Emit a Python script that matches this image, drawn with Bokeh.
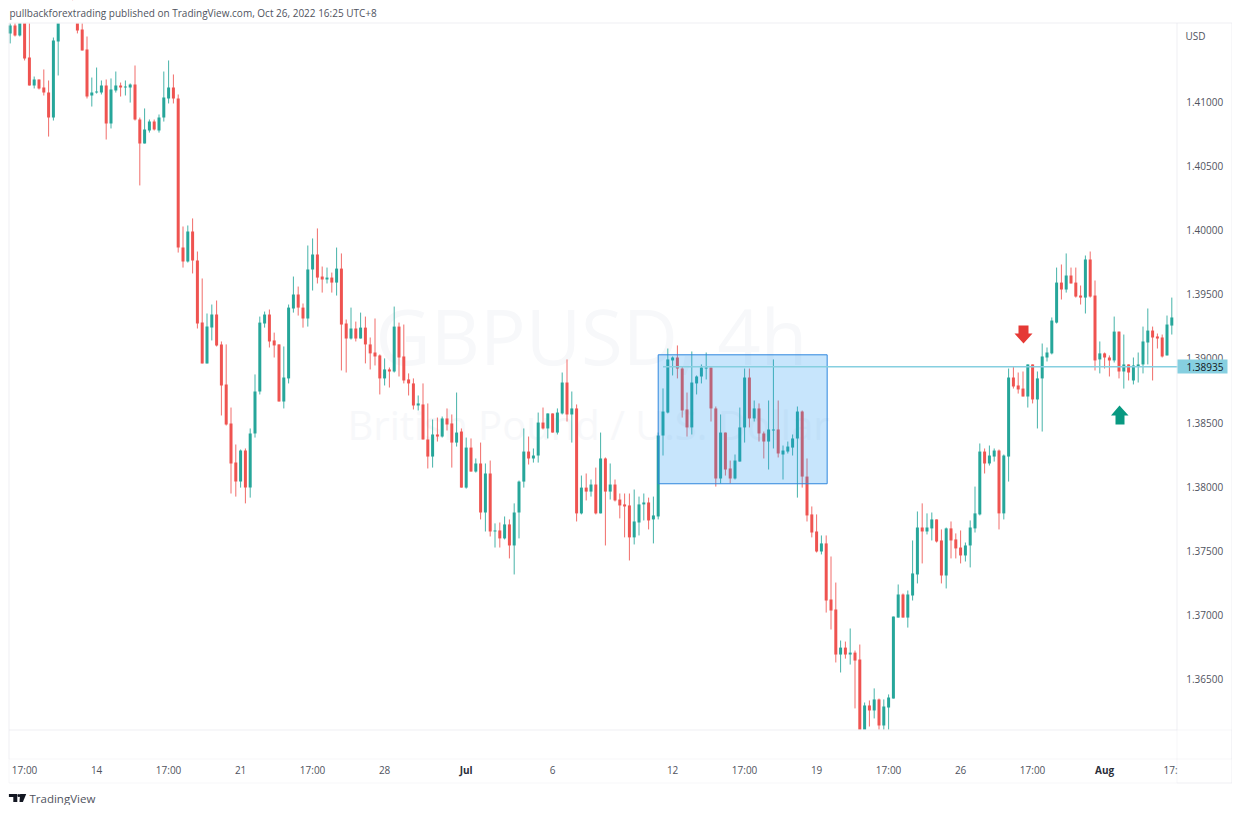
from bokeh.embed import file_html
from bokeh.resources import INLINE
from bokeh.models import BoxAnnotation, ColumnDataSource, FixedTicker, Label, NumeralTickFormatter, Range1d
from bokeh.plotting import figure

opens = [
1.41533,1.41595,1.41517,1.41673,1.41345,1.41127,1.41174,1.41111,1.41072,1.40877,
1.41470,1.41727,1.41681,1.41758,1.41650,1.41564,1.41408,1.41049,1.41072,1.41072,
1.41127,1.40831,1.41088,1.41127,1.41111,1.41111,1.41135,1.40862,1.40675,1.40776,
1.40846,1.40776,1.40877,1.41026,1.41111,1.41026,1.39864,1.39755,1.39989,1.39763,
1.39279,1.38961,1.39240,1.39342,1.39109,1.38797,1.38493,1.38188,1.38040,1.38282,
1.37993,1.38415,1.38742,1.39272,1.39342,1.39140,1.39109,1.38664,1.38844,1.39389,
1.39498,1.39396,1.39311,1.39693,1.39810,1.39638,1.39615,1.39630,1.39591,1.39700,
1.39272,1.39155,1.39233,1.39155,1.39240,1.39109,1.39046,1.39023,1.38844,1.38914,
1.38898,1.39248,1.39015,1.38836,1.38805,1.38633,1.38641,1.38368,1.38235,1.38407,
1.38391,1.38532,1.38493,1.38344,1.38430,1.37993,1.38305,1.38118,1.38181,1.37799,
1.38103,1.37651,1.37659,1.37597,1.37706,1.37542,1.37799,1.38040,1.38274,1.38220,
1.38243,1.38500,1.38454,1.38571,1.38422,1.38571,1.38812,1.38563,1.38610,1.37792,
1.37993,1.37962,1.38017,1.37792,1.38220,1.37962,1.38017,1.37900,1.37862,1.37854,
1.37605,1.37721,1.37862,1.37877,1.37745,1.37768,1.38399,1.38578,1.38984,1.39007,
1.38921,1.38602,1.38462,1.38805,1.38859,1.38921,1.38929,1.38610,1.38064,1.38422,
1.38142,1.38064,1.38196,1.38462,1.38851,1.38532,1.38610,1.38415,1.38352,1.38438,
1.38446,1.38251,1.38274,1.38305,1.38376,1.38586,1.38079,1.37784,1.37651,1.37495,
1.37558,1.37121,1.37043,1.36692,1.36746,1.36692,1.36707,1.36653,1.36061,1.36295,
1.36256,1.36342,1.36139,1.36279,1.36349,1.36980,1.37160,1.36980,1.37152,1.37316,
1.37682,1.37651,1.37675,1.37745,1.37581,1.37308,1.37675,1.37589,1.37526,1.37464,
1.37542,1.37675,1.37784,1.38274,1.38181,1.38235,1.38282,1.37792,1.38235,1.38851,
1.38789,1.38765,1.38703,1.38953,1.38680,1.38844,1.39007,1.39039,1.39279,1.39591,
1.39537,1.39646,1.39591,1.39490,1.39474,1.39771,1.39490,1.38992,1.39039,1.39007,
1.38984,1.39209,1.38898,1.38953,1.38828,1.38937,1.38953,1.39124,1.39217,1.39171,
1.39163,1.39023,1.39256]

closes = [
1.41595,1.41517,1.41634,1.41338,1.41127,1.41174,1.41104,1.41072,1.40877,1.41478,
1.41650,1.41681,1.41751,1.41650,1.41556,1.41400,1.41041,1.41072,1.41080,1.41127,
1.40831,1.41096,1.41127,1.41111,1.41119,1.41135,1.40862,1.40675,1.40784,1.40846,
1.40784,1.40877,1.41033,1.41111,1.41026,1.39864,1.39755,1.39989,1.39763,1.39272,
1.38961,1.39248,1.39342,1.39101,1.38789,1.38485,1.38181,1.38040,1.38282,1.37993,
1.38415,1.38742,1.39279,1.39342,1.39132,1.39101,1.38664,1.38851,1.39396,1.39498,
1.39396,1.39311,1.39693,1.39810,1.39630,1.39615,1.39630,1.39591,1.39700,1.39264,
1.39155,1.39233,1.39155,1.39240,1.39109,1.39039,1.39015,1.38844,1.38914,1.38898,
1.39248,1.39007,1.38828,1.38805,1.38633,1.38649,1.38368,1.38235,1.38407,1.38391,
1.38532,1.38485,1.38344,1.38422,1.37993,1.38305,1.38118,1.38181,1.37799,1.38103,
1.37651,1.37659,1.37597,1.37706,1.37542,1.37799,1.38040,1.38274,1.38220,1.38243,
1.38500,1.38454,1.38571,1.38422,1.38578,1.38812,1.38563,1.38610,1.37792,1.37993,
1.37962,1.38017,1.37792,1.38220,1.37962,1.38017,1.37893,1.37854,1.37846,1.37605,
1.37729,1.37862,1.37877,1.37737,1.37776,1.38399,1.38586,1.38992,1.39007,1.38921,
1.38594,1.38462,1.38812,1.38859,1.38929,1.38929,1.38610,1.38064,1.38422,1.38134,
1.38064,1.38204,1.38462,1.38851,1.38532,1.38610,1.38415,1.38352,1.38446,1.38446,
1.38259,1.38282,1.38313,1.38376,1.38586,1.38079,1.37776,1.37643,1.37495,1.37558,
1.37113,1.37035,1.36692,1.36746,1.36692,1.36707,1.36645,1.36061,1.36295,1.36256,
1.36342,1.36139,1.36287,1.36357,1.36988,1.37160,1.36980,1.37160,1.37324,1.37682,
1.37651,1.37682,1.37745,1.37573,1.37308,1.37675,1.37581,1.37519,1.37464,1.37542,
1.37682,1.37792,1.38274,1.38181,1.38243,1.38282,1.37792,1.38243,1.38851,1.38781,
1.38758,1.38703,1.38953,1.38680,1.38844,1.39015,1.39046,1.39295,1.39591,1.39537,
1.39646,1.39584,1.39482,1.39474,1.39771,1.39482,1.38984,1.39039,1.39007,1.38984,
1.39209,1.38898,1.38953,1.38890,1.38945,1.38953,1.39132,1.39217,1.39163,1.39155,
1.39015,1.39264,1.39319]

highs = [
1.41650,1.41640,1.41700,1.41730,1.41634,1.41197,1.41174,1.41252,1.41166,1.41501,
1.41673,1.41751,1.41774,1.41790,1.41696,1.41618,1.41509,1.41189,1.41267,1.41166,
1.41174,1.41182,1.41236,1.41150,1.41166,1.41143,1.41283,1.40877,1.40948,1.40862,
1.40862,1.40901,1.41236,1.41322,1.41213,1.41057,1.40028,1.40036,1.40091,1.39833,
1.39623,1.39350,1.39420,1.39451,1.39132,1.39109,1.38617,1.38329,1.38290,1.38298,
1.38454,1.38875,1.39326,1.39365,1.39381,1.39201,1.39109,1.39093,1.39420,1.39638,
1.39560,1.39428,1.39880,1.39935,1.40013,1.39716,1.39708,1.39669,1.39864,1.39818,
1.39303,1.39396,1.39287,1.39357,1.39326,1.39163,1.39311,1.39031,1.39000,1.38929,
1.39404,1.39279,1.39264,1.38883,1.38844,1.38711,1.38805,1.38649,1.38524,1.38539,
1.38547,1.38610,1.38563,1.38734,1.38454,1.38383,1.38376,1.38220,1.38344,1.38181,
1.38204,1.37714,1.37721,1.37768,1.37745,1.37870,1.38048,1.38454,1.38391,1.38298,
1.38578,1.38617,1.38571,1.38571,1.38610,1.38890,1.38992,1.38742,1.38641,1.38087,
1.38103,1.38056,1.38149,1.38422,1.38228,1.38181,1.38056,1.37947,1.37947,1.37947,
1.37978,1.37923,1.37947,1.37915,1.37923,1.38422,1.38766,1.39077,1.39015,1.39101,
1.38937,1.38734,1.39054,1.38867,1.38953,1.39046,1.38929,1.38625,1.38563,1.38422,
1.38204,1.38251,1.38617,1.38921,1.38921,1.38672,1.38649,1.38430,1.38672,1.38992,
1.38672,1.38321,1.38352,1.38407,1.38625,1.38594,1.38220,1.37846,1.37784,1.37620,
1.37620,1.37456,1.37253,1.36801,1.36793,1.36895,1.36723,1.36770,1.36318,1.36334,
1.36428,1.36349,1.36342,1.36381,1.36988,1.37238,1.37168,1.37191,1.37581,1.37807,
1.37870,1.37792,1.37799,1.37745,1.37667,1.37682,1.37729,1.37636,1.37659,1.37565,
1.37737,1.38001,1.38337,1.38298,1.38321,1.38298,1.38290,1.38251,1.38921,1.38937,
1.38890,1.38898,1.38953,1.38953,1.38898,1.39116,1.39085,1.39319,1.39708,1.39732,
1.39818,1.39708,1.39708,1.39568,1.39802,1.39833,1.39607,1.39132,1.39046,1.39023,
1.39326,1.39209,1.39186,1.38953,1.39007,1.39046,1.39248,1.39389,1.39248,1.39194,
1.39186,1.39334,1.39474]

lows = [
1.41455,1.41509,1.41509,1.41322,1.41127,1.41104,1.41096,1.41049,1.40729,1.40854,
1.41205,1.41650,1.41658,1.41640,1.41533,1.41400,1.41026,1.40963,1.41064,1.41057,
1.40706,1.40792,1.41072,1.41041,1.41049,1.40994,1.40854,1.40348,1.40675,1.40760,
1.40776,1.40760,1.40846,1.40987,1.40987,1.39825,1.39708,1.39747,1.39662,1.39233,
1.38961,1.38961,1.39140,1.39093,1.38555,1.38477,1.37947,1.37923,1.37993,1.37870,
1.37915,1.38383,1.38719,1.39240,1.39085,1.39007,1.38664,1.38610,1.38805,1.39357,
1.39334,1.39240,1.39248,1.39529,1.39584,1.39513,1.39584,1.39513,1.39490,1.38906,
1.38890,1.39147,1.39132,1.39155,1.38961,1.38914,1.38945,1.38719,1.38789,1.38773,
1.38890,1.38859,1.38805,1.38711,1.38602,1.38594,1.38368,1.38142,1.38149,1.38352,
1.38383,1.38438,1.38149,1.38313,1.37993,1.37985,1.38118,1.38110,1.37745,1.37651,
1.37612,1.37526,1.37526,1.37589,1.37441,1.37316,1.37597,1.37993,1.38173,1.38188,
1.38188,1.38446,1.38376,1.38422,1.38407,1.38563,1.38508,1.38344,1.37729,1.37784,
1.37893,1.37923,1.37784,1.37792,1.37542,1.37900,1.37885,1.37753,1.37605,1.37425,
1.37550,1.37620,1.37737,1.37667,1.37558,1.37745,1.38243,1.38571,1.38867,1.38844,
1.38539,1.38391,1.38407,1.38719,1.38805,1.38836,1.38508,1.38001,1.38025,1.38087,
1.38025,1.38056,1.38196,1.38344,1.38462,1.38508,1.38352,1.38220,1.38134,1.38298,
1.38228,1.38056,1.38259,1.38243,1.37915,1.37993,1.37729,1.37605,1.37487,1.37472,
1.37019,1.36887,1.36630,1.36552,1.36660,1.36614,1.36272,1.35983,1.36022,1.36131,
1.36194,1.36061,1.36077,1.36092,1.36349,1.36980,1.36980,1.36902,1.37113,1.37246,
1.37402,1.37628,1.37581,1.37565,1.37246,1.37207,1.37441,1.37441,1.37402,1.37417,
1.37371,1.37643,1.37776,1.38103,1.38165,1.38196,1.37667,1.37745,1.38040,1.38765,
1.38726,1.38703,1.38617,1.38649,1.38454,1.38430,1.38976,1.39031,1.39272,1.39459,
1.39513,1.39584,1.39474,1.39420,1.39350,1.39474,1.38906,1.38883,1.38921,1.38859,
1.38968,1.38844,1.38765,1.38828,1.38797,1.38812,1.38883,1.38953,1.38828,1.39077,
1.39007,1.39023,1.39186]

price_ticks = [1.365, 1.37, 1.375, 1.38, 1.385, 1.39, 1.395, 1.40, 1.405, 1.41]
time_ticks = [3, 18, 33, 48, 63, 78, 95, 113, 138, 153, 168, 183, 198, 213, 228, 241.75]
time_labels = ["17:00", "14", "17:00", "21", "17:00", "28", "", "6", "12", "17:00",
               "19", "17:00", "26", "17:00", "", "17:"]
month_ticks = [95, 228]
month_labels = ["Jul", "Aug"]

last_price = 1.38935
zone_x0, zone_x1, zone_top, zone_bottom = 135.0, 170.2, 1.39028, 1.38023
hline_start = 136.0

UP, DOWN = "#26a69a", "#ef5350"
FONT = "Open Sans"
BORDER = "#e0e3eb"
TXT = "#50535e"
WIDTH, HEIGHT = 1232, 805


def xd(px):   # page pixel -> candle index, for chart furniture only
    return (px - 9.7) / 4.8


def yd(px):   # page pixel -> price, for chart furniture only
    return 1.417895 - 7.794e-5 * px


src = ColumnDataSource(dict(
    x=list(range(len(opens))), o=opens, c=closes, h=highs, l=lows,
    color=[UP if c >= o else DOWN for o, c in zip(opens, closes)],
    top=[max(a, b) for a, b in zip(opens, closes)],
    bottom=[min(a, b) for a, b in zip(opens, closes)],
))

p = figure(width=WIDTH, height=HEIGHT, output_backend="svg", toolbar_location=None, tools="",
           x_range=Range1d(xd(0), xd(WIDTH)), y_range=Range1d(yd(HEIGHT), yd(0)),
           x_axis_location="below", y_axis_location="right", min_border=0)
p.grid.visible = False
p.outline_line_color = None

p.yaxis.fixed_location = xd(1176.7)
p.yaxis.ticker = FixedTicker(ticks=price_ticks)
p.yaxis.formatter = NumeralTickFormatter(format="0.00000")
p.xaxis.fixed_location = yd(758.5)
p.xaxis.ticker = FixedTicker(ticks=time_ticks)
p.xaxis.major_label_overrides = {t: s for t, s in zip(time_ticks, time_labels)}
p.xaxis.major_label_standoff = 4
p.yaxis.major_label_standoff = 9
for ax in (p.xaxis, p.yaxis):
    ax.axis_line_color = None
    ax.major_tick_line_color = None
    ax.minor_tick_line_color = None
    ax.major_tick_in = 0
    ax.major_tick_out = 0
    ax.minor_tick_in = 0
    ax.minor_tick_out = 0
    ax.major_label_text_font = FONT
    ax.major_label_text_font_size = "10px"
    ax.major_label_text_color = TXT


def box(l, r, t, b, fill=None):
    p.add_layout(BoxAnnotation(left=l, right=r, top=t, bottom=b, left_units="canvas", right_units="canvas",
                               top_units="canvas", bottom_units="canvas",
                               fill_color=fill, fill_alpha=1 if fill else 0,
                               line_color=None if fill else BORDER, line_width=1))


for text, x, y, size in [("GBPUSD, 4h", 591, 335, "76px"),
                         ("British Pound / U.S. Dollar", 588, 424, "40px")]:
    p.add_layout(Label(x=x, y=y, x_units="canvas", y_units="canvas", text=text, text_font=FONT,
                       text_font_size=size, text_color="#f7f8fa", text_align="center",
                       text_baseline="middle", level="underlay"))

p.segment("x", "h", "x", "l", source=src, line_color="color", line_width=1, line_alpha=0.85)
p.vbar("x", 0.625, "top", "bottom", source=src, fill_color="color", line_color=None)

p.quad(left=[zone_x0], right=[zone_x1], top=[zone_top], bottom=[zone_bottom],
       fill_color="#2196f3", fill_alpha=0.25, line_color="#2e86de", line_width=1)
p.segment([hline_start], [last_price], [xd(1177)], [last_price], line_color="#86cfe0", line_width=1.6)

# white panels hide what runs past the price pane
p.quad(left=[xd(0)], right=[xd(WIDTH)], top=[yd(0)], bottom=[yd(23)], fill_color="white", line_color=None)
p.quad(left=[xd(0)], right=[xd(WIDTH)], top=[yd(729)], bottom=[yd(HEIGHT)], fill_color="white", line_color=None)

# drawn arrows
p.patch([xd(1018), xd(1028), xd(1028), xd(1032), xd(1023), xd(1014), xd(1018)],
        [yd(325), yd(325), yd(333), yd(333), yd(343), yd(333), yd(333)], fill_color="#e53935", line_color=None)
p.patch([xd(1115), xd(1124), xd(1124), xd(1128), xd(1119), xd(1110.5), xd(1115)],
        [yd(424), yd(424), yd(415), yd(415), yd(405), yd(415), yd(415)], fill_color="#089981", line_color=None)

# logo
p.patch([xd(8.4), xd(16.8), xd(16.8), xd(12.8), xd(12.8), xd(8.4)],
        [yd(793.4), yd(793.4), yd(801.6), yd(801.6), yd(796.4), yd(796.4)], fill_color="#131722", line_color=None)
p.patch([xd(19.6), xd(25.7), xd(22.4), xd(19.0)], [yd(793.4), yd(793.4), yd(801.6), yd(801.6)],
        fill_color="#131722", line_color=None)
p.scatter([xd(18.4)], [yd(795)], size=3, fill_color="#131722", line_color=None)

box(8.5, 1231.5, 22.5, 782.5)
box(8.5, 1176.5, 22.5, 729.5)
box(8.5, 1231.5, 729.5, 758.5)
box(1176.5, 1231.5, 22.5, 782.5)
box(1177, 1227, 359, 373, fill="#86cfe0")

p.add_layout(Label(x=1186, y=366, x_units="canvas", y_units="canvas", text="1.38935", text_font=FONT,
                   text_font_size="10px", text_color="#131722", text_baseline="middle"))
p.add_layout(Label(x=1185, y=35, x_units="canvas", y_units="canvas", text="USD", text_font=FONT,
                   text_font_size="10px", text_color=TXT, text_baseline="middle"))
p.add_layout(Label(x=9, y=12.5, x_units="canvas", y_units="canvas",
                   text="pullbackforextrading published on TradingView.com, Oct 26, 2022 16:25 UTC+8",
                   text_font=FONT, text_font_size="10px", text_color=TXT, text_baseline="middle"))
p.add_layout(Label(x=29, y=797.5, x_units="canvas", y_units="canvas", text="TradingView", text_font=FONT,
                   text_font_size="11.5px", text_color=TXT, text_baseline="middle"))
for t, s in zip(month_ticks, month_labels):
    p.add_layout(Label(x=t, y=769, x_units="data", y_units="canvas", text=s, text_font=FONT,
                       text_font_size="10px", text_font_style="bold", text_color="#2a2e39",
                       text_align="center", text_baseline="middle"))

open("out.html", "w").write(file_html(p, INLINE))
